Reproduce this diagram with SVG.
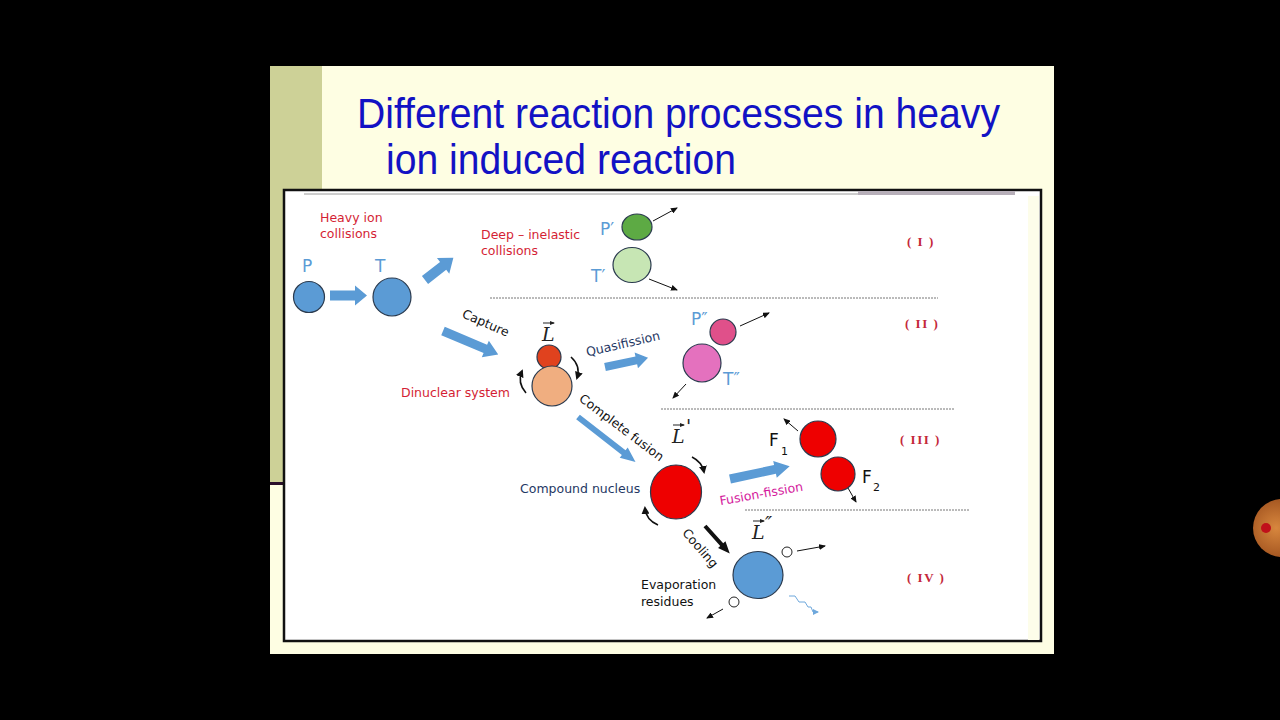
<svg xmlns="http://www.w3.org/2000/svg" width="1280" height="720" viewBox="0 0 1280 720">
<style>
.lbl{font-family:"DejaVu Sans",Verdana,sans-serif;font-size:12.5px}
.red{fill:#D41E34}
.navy{fill:#1F3864}
.pb{font-family:"DejaVu Sans",sans-serif;font-size:17px;fill:#5B9BD5}
.rom{font-family:"Liberation Serif",serif;font-size:13px;font-weight:bold;fill:#C4283A;letter-spacing:1.5px}
.blk{fill:#5B9BD5}
.thin{stroke:#111;stroke-width:1;fill:none;marker-end:url(#ah)}
.curv{stroke:#111;stroke-width:1.6;fill:none;marker-end:url(#ah2)}
.dash{stroke:#777;stroke-width:1;stroke-dasharray:2 1}
.vl{font-family:"DejaVu Serif","Liberation Serif",serif;font-style:italic;font-size:19px;fill:#222}
.ball{stroke:#2B3B4F;stroke-width:1.2}
</style>
<defs>
<marker id="ah" markerWidth="7" markerHeight="6" refX="6" refY="3" orient="auto" markerUnits="userSpaceOnUse"><path d="M0,0 L7,3 L0,6 Z" fill="#111"/></marker>
<marker id="ah2" markerWidth="8" markerHeight="8" refX="6" refY="4" orient="auto" markerUnits="userSpaceOnUse"><path d="M0,0 L8,4 L0,8 Z" fill="#111"/></marker>
<marker id="ahb" markerWidth="6" markerHeight="6" refX="5" refY="3" orient="auto" markerUnits="userSpaceOnUse"><path d="M0,0 L6,3 L0,6 Z" fill="#6FA8DC"/></marker>
<marker id="ahs" markerWidth="5" markerHeight="4" refX="4" refY="2" orient="auto" markerUnits="userSpaceOnUse"><path d="M0,0 L5,2 L0,4 Z" fill="#222"/></marker>
<radialGradient id="og" cx="0.4" cy="0.5" r="0.6"><stop offset="0" stop-color="#D8873E"/><stop offset="1" stop-color="#9C4E1C"/></radialGradient>
</defs>
<rect x="0" y="0" width="1280" height="720" fill="#000"/>
<!-- slide -->
<rect x="270" y="66" width="784" height="588" fill="#FEFEE3"/>
<rect x="270" y="66" width="52" height="417" fill="#CDD197"/>
<rect x="270" y="482" width="14" height="3" fill="#2A0F2A"/>
<text font-family="'Liberation Sans',Arial,sans-serif" font-size="42" fill="#1212C4" x="357" y="128" textLength="643" lengthAdjust="spacingAndGlyphs">Different reaction processes in heavy</text>
<text font-family="'Liberation Sans',Arial,sans-serif" font-size="42" fill="#1212C4" x="386" y="174" textLength="350" lengthAdjust="spacingAndGlyphs">ion induced reaction</text>
<!-- box -->
<rect x="284" y="190" width="757" height="451" fill="#FFFFFF" stroke="#111" stroke-width="2.5"/>
<rect x="1028" y="196" width="11" height="444" fill="#FDFDEA"/>
<line x1="304" y1="194" x2="1015" y2="194" stroke="#9A9A9A" stroke-width="1"/>
<rect x="858" y="191" width="157" height="4" fill="#B7AFB9"/>
<!-- orange badge -->
<circle cx="1282" cy="528" r="29" fill="url(#og)"/>
<circle cx="1266" cy="528" r="5" fill="#C0101A"/>

<g id="connectors">
<polygon class="blk" transform="translate(330,295.5)" points="0,-5 25,-5 25,-10 37,0 25,10 25,5 0,5"/>
<polygon class="blk" transform="translate(425,280) rotate(-38)" points="0,-5 23,-5 23,-10 36,0 23,10 23,5 0,5"/>
<polygon class="blk" transform="translate(443,331) rotate(23)" points="0,-4.5 46,-4.5 46,-9 60,0 46,9 46,4.5 0,4.5"/>
<polygon class="blk" transform="translate(605,367) rotate(-12)" points="0,-4 32,-4 32,-8 44,0 32,8 32,4 0,4"/>
<polygon class="blk" transform="translate(578,417) rotate(38)" points="0,-3 58,-3 58,-6.5 73,0 58,6.5 58,3 0,3"/>
<polygon class="blk" transform="translate(730,479) rotate(-12)" points="0,-4.5 46,-4.5 46,-8.5 61,0 46,8.5 46,4.5 0,4.5"/>
<polygon fill="#111" transform="translate(705,526) rotate(48)" points="0,-2 25,-2 25,-5 37,0 25,5 25,2 0,2"/>
<line class="thin" x1="653" y1="221" x2="677" y2="208"/>
<line class="thin" x1="649" y1="279" x2="677" y2="290"/>
<line class="thin" x1="740" y1="326" x2="769" y2="313"/>
<line class="thin" x1="686" y1="384" x2="673" y2="398"/>
<line class="thin" x1="798" y1="431" x2="784" y2="419"/>
<line class="thin" x1="848" y1="488" x2="856" y2="502"/>
<line class="thin" x1="797" y1="551" x2="825" y2="546"/>
<line class="thin" x1="723" y1="609" x2="707" y2="618"/>
<path d="M789,596 H795 L799,602 H805 L808,607 H811 L813,612 H818" stroke="#6FA8DC" stroke-width="1" fill="none" marker-end="url(#ahb)"/>
<path class="curv" d="M571,357 Q581,366 577,378"/>
<path class="curv" d="M526,393 Q517,383 522,371"/>
<path class="curv" d="M692,457 Q702,462 704,472"/>
<path class="curv" d="M658,525 Q646,520 645,508"/>
<line class="dash" x1="490" y1="298" x2="938" y2="298"/>
<line class="dash" x1="661" y1="409" x2="954" y2="409"/>
<line class="dash" x1="745" y1="510" x2="970" y2="510"/>
</g>

<g id="heavy-ion">
<text class="lbl red" x="320" y="222">Heavy ion</text>
<text class="lbl red" x="320" y="238">collisions</text>
</g>
<g id="projectile">
<text class="pb" x="302" y="272">P</text>
<circle class="ball" cx="309" cy="297" r="15.5" fill="#5B9BD5"/>
</g>
<g id="target">
<text class="pb" x="375" y="272">T</text>
<circle class="ball" cx="392" cy="297" r="19" fill="#5B9BD5"/>
</g>
<g id="deep-inelastic">
<text class="lbl red" x="481" y="239">Deep – inelastic</text>
<text class="lbl red" x="481" y="255">collisions</text>
<text class="pb" x="600" y="235">P′</text>
<ellipse class="ball" cx="637" cy="227" rx="15" ry="13" fill="#5DAA44"/>
<text class="pb" x="591" y="282">T′</text>
<ellipse class="ball" cx="632" cy="265" rx="19" ry="17.5" fill="#C7E6B4"/>
<text class="rom" x="907" y="246">( I )</text>
</g>
<g id="capture">
<text class="lbl" fill="#111" x="484" y="327" text-anchor="middle" transform="rotate(23.5 484 327)">Capture</text>
</g>
<g id="dinuclear">
<text class="vl" x="542" y="341">L</text>
<line x1="543" y1="323" x2="554" y2="323" stroke="#222" stroke-width="1" marker-end="url(#ahs)"/>
<circle class="ball" cx="549" cy="357" r="12" fill="#E0421E"/>
<circle class="ball" cx="552" cy="386" r="20" fill="#F0AE80"/>
<text class="lbl red" x="401" y="397">Dinuclear system</text>
</g>
<g id="quasifission">
<text class="lbl navy" x="624" y="348" text-anchor="middle" transform="rotate(-13 624 348)">Quasifission</text>
<text class="pb" x="691" y="325">P″</text>
<circle class="ball" cx="723" cy="332" r="13" fill="#E0508A"/>
<circle class="ball" cx="702" cy="363" r="19" fill="#E471BE"/>
<text class="pb" x="723" y="385">T″</text>
<text class="rom" x="905" y="328">( II )</text>
</g>
<g id="complete-fusion">
<text class="lbl" fill="#111" x="619" y="431" text-anchor="middle" transform="rotate(37 619 431)">Complete  fusion</text>
</g>
<g id="compound-nucleus">
<text class="vl" x="672" y="443">L</text>
<line x1="673" y1="425" x2="684" y2="425" stroke="#222" stroke-width="1" marker-end="url(#ahs)"/>
<text class="vl" x="686" y="433" font-size="12">'</text>
<ellipse class="ball" cx="676" cy="492" rx="25.5" ry="27" fill="#EE0000"/>
<text class="lbl navy" x="520" y="493">Compound nucleus</text>
</g>
<g id="fusion-fission">
<text class="lbl" fill="#D4189C" x="762" y="498" text-anchor="middle" transform="rotate(-10 762 498)">Fusion-fission</text>
<text font-family="'DejaVu Sans',sans-serif" font-size="17" fill="#111" x="769" y="446">F</text>
<text font-family="'DejaVu Sans',sans-serif" font-size="11" fill="#111" x="781" y="455">1</text>
<circle class="ball" cx="818" cy="439" r="18" fill="#EE0000"/>
<circle class="ball" cx="838" cy="474" r="17" fill="#EE0000"/>
<text font-family="'DejaVu Sans',sans-serif" font-size="17" fill="#111" x="862" y="483">F</text>
<text font-family="'DejaVu Sans',sans-serif" font-size="11" fill="#111" x="873" y="491">2</text>
<text class="rom" x="900" y="444">( III )</text>
</g>
<g id="evaporation">
<text class="lbl" fill="#111" x="697" y="551" text-anchor="middle" transform="rotate(49 697 551)">Cooling</text>
<text class="vl" x="752" y="539">L</text>
<line x1="753" y1="521" x2="764" y2="521" stroke="#222" stroke-width="1" marker-end="url(#ahs)"/>
<text class="vl" x="765" y="530" font-size="12">″</text>
<ellipse class="ball" cx="758" cy="575" rx="25" ry="23.5" fill="#5B9BD5"/>
<circle cx="787" cy="552" r="5" fill="#fff" stroke="#222" stroke-width="1"/>
<circle cx="734" cy="602" r="5" fill="#fff" stroke="#222" stroke-width="1"/>
<text class="lbl" fill="#111" font-size="13.5" x="641" y="589">Evaporation</text>
<text class="lbl" fill="#111" font-size="13.5" x="641" y="606">residues</text>
<text class="rom" x="907" y="582">( IV )</text>
</g>
</svg>
